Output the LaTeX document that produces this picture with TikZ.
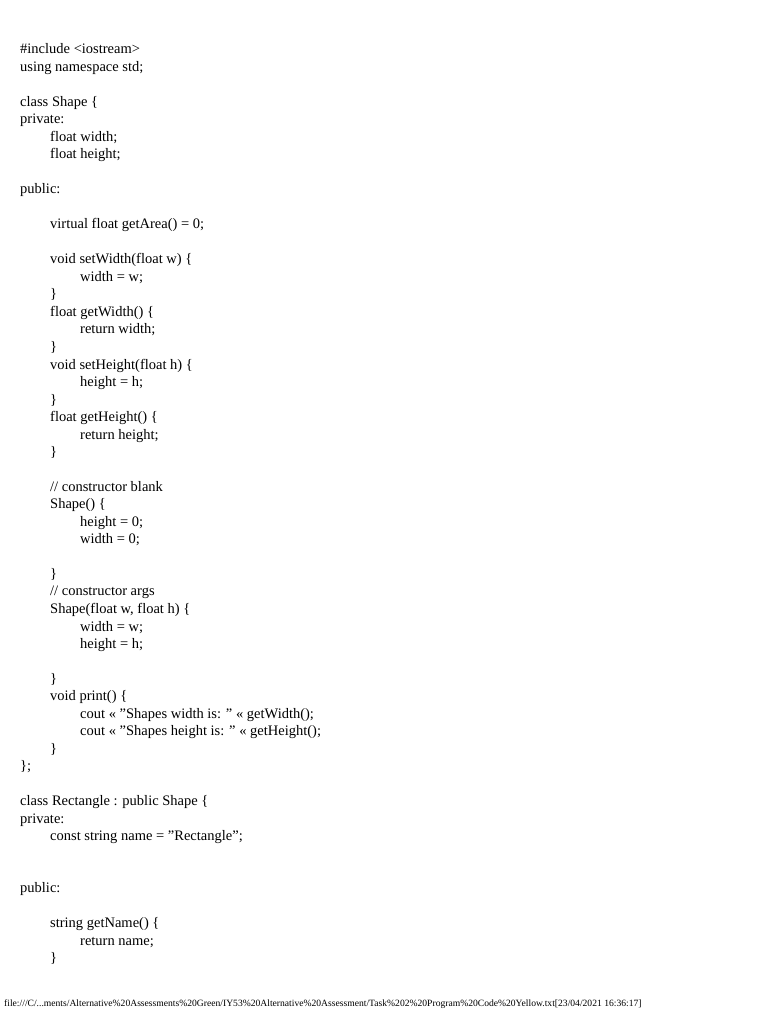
\documentclass[tikz,border=0pt]{standalone}
\usepackage{fontspec}
\setmainfont{Liberation Serif}
\begin{document}
\begin{tikzpicture}[x=1pt,y=1pt,
  cl/.style={anchor=base west,inner sep=0pt,font=\fontsize{14.5}{16}\selectfont},
  ft/.style={anchor=base west,inner sep=0pt,font=\fontsize{9.6}{11}\selectfont}]
\useasboundingbox (0,0) rectangle (768,-1024);
\def\a{20}\def\b{50}\def\c{80}
\node[cl] (l1) at (\a,-54) {\#include <iostream>};
\node[cl] (l2) at (\a,-72) {using namespace std;};
\node[cl] (l3) at (\a,-107) {class Shape \{};
\node[cl] (l4) at (\a,-124) {private:};
\node[cl] (l5) at (\b,-142) {float width;};
\node[cl] (l6) at (\b,-159) {float height;};
\node[cl] (l7) at (\a,-194) {public:};
\node[cl] (l8) at (\b,-229) {virtual float getArea() = 0;};
\node[cl] (l9) at (\b,-263) {void setWidth(float w) \{};
\node[cl] (l10) at (\c,-281) {width = w;};
\node[cl] (l11) at (\b,-298) {\}};
\node[cl] (l12) at (\b,-316) {float getWidth() \{};
\node[cl] (l13) at (\c,-333) {return width;};
\node[cl] (l14) at (\b,-351) {\}};
\node[cl] (l15) at (\b,-369) {void setHeight(float h) \{};
\node[cl] (l16) at (\c,-386) {height = h;};
\node[cl] (l17) at (\b,-404) {\}};
\node[cl] (l18) at (\b,-421) {float getHeight() \{};
\node[cl] (l19) at (\c,-439) {return height;};
\node[cl] (l20) at (\b,-456) {\}};
\node[cl] (l21) at (\b,-491) {// constructor blank};
\node[cl] (l22) at (\b,-508) {Shape() \{};
\node[cl] (l23) at (\c,-526) {height = 0;};
\node[cl] (l24) at (\c,-543) {width = 0;};
\node[cl] (l25) at (\b,-578) {\}};
\node[cl] (l26) at (\b,-595) {// constructor args};
\node[cl] (l27) at (\b,-613) {Shape(float w, float h) \{};
\node[cl] (l28) at (\c,-631) {width = w;};
\node[cl] (l29) at (\c,-648) {height = h;};
\node[cl] (l30) at (\b,-683) {\}};
\node[cl] (l31) at (\b,-700) {void print() \{};
\node[cl] (l32) at (\c,-718) {cout << "Shapes width is: " << getWidth();};
\node[cl] (l33) at (\c,-735) {cout << "Shapes height is: " << getHeight();};
\node[cl] (l34) at (\b,-753) {\}};
\node[cl] (l35) at (\a,-770) {\};};
\node[cl] (l36) at (\a,-805) {class Rectangle : public Shape \{};
\node[cl] (l37) at (\a,-823) {private:};
\node[cl] (l38) at (\b,-840) {const string name = "Rectangle";};
\node[cl] (l39) at (\a,-892) {public:};
\node[cl] (l40) at (\b,-927) {string getName() \{};
\node[cl] (l41) at (\c,-945) {return name;};
\node[cl] (l42) at (\b,-962) {\}};
\node[ft] (foot) at (4,-1006) {file:///C/...ments/Alternative\%20Assessments\%20Green/IY53\%20Alternative\%20Assessment/Task\%202\%20Program\%20Code\%20Yellow.txt[23/04/2021 16:36:17]};
\end{tikzpicture}
\end{document}
